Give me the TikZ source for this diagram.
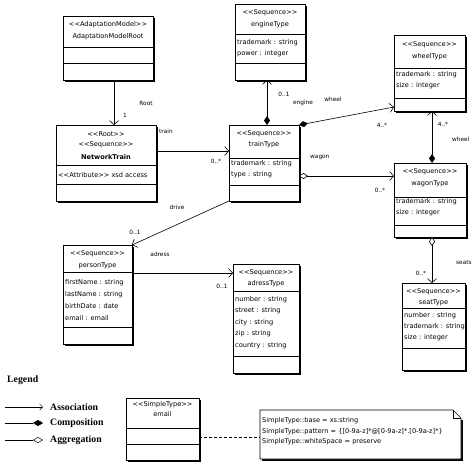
\documentclass[tikz,border=0pt]{standalone}
\usepackage{fontspec}
\setmainfont{DejaVu Sans}
\newfontfamily\legfont{Liberation Serif}
\usetikzlibrary{arrows.meta,calc}
\tikzset{
 box/.style={draw, line width=0.6pt, inner sep=0, outer sep=0, fill=white},
 shad/.style={line width=1.8pt},
 txt/.style={font=\fontsize{6.6}{7.5}\selectfont, inner sep=0},
 atr/.style={txt, anchor=west},
 lbl/.style={font=\fontsize{5.8}{6.5}\selectfont, inner sep=0},
 leg/.style={font=\legfont\bfseries\fontsize{9.8}{10}\selectfont, inner sep=0, anchor=west},
 assoc/.style={line width=0.6pt, -{Straight Barb[length=4pt,width=9pt]}},
 comp/.style={line width=0.6pt, {Diamond[length=9pt,width=6pt]}-{Straight Barb[length=4pt,width=9pt]}},
 aggr/.style={line width=0.6pt, {Diamond[open,length=9pt,width=6pt,fill=white]}-{Straight Barb[length=4pt,width=9pt]}},
}
% name, x1, y1, x2, y2, header divider y, attribute divider y
\newcommand\umlbox[7]{%
 \node[box, minimum width={#4pt-#2pt}, minimum height={#5pt-#3pt}, anchor=north west] (#1) at (#2,#3) {};
 \draw[line width=0.6pt] (#2,#6) -- (#4,#6);
 \draw[line width=0.6pt] (#2,#7) -- (#4,#7);
 \draw[shad] ([xshift=2pt,yshift=-0.9pt]#1.south west) -- ([xshift=0.9pt,yshift=-0.9pt]#1.south east) -- ([xshift=0.9pt,yshift=-2pt]#1.north east);
}
\begin{document}
\begin{tikzpicture}[x=1pt,y=-1pt]
\useasboundingbox[fill=white] (0,0) rectangle (474,463);

% AdaptationModelRoot
\umlbox{amr}{63}{16}{153}{80}{47}{63}
\node[txt] (amr1) at (108,25) {<{}<AdaptationModel>{}>};
\node[txt] (amr2) at (108,37) {AdaptationModelRoot};

% NetworkTrain
\umlbox{nt}{56}{125}{156}{201}{165}{184}
\node[txt] (nt1) at (106,134) {<{}<Root>{}>};
\node[txt] (nt2) at (106,145) {<{}<Sequence>{}>};
\node[txt,font=\bfseries\fontsize{6.6}{7.5}\selectfont] (nt3) at (106,157) {NetworkTrain};
\node[atr] (nt4) at (58,175) {<{}<Attribute>{}> xsd access};

% engineType
\umlbox{et}{235}{4}{305}{80}{34}{63}
\node[txt] (et1) at (270,13) {<{}<Sequence>{}>};
\node[txt] (et2) at (270,25) {engineType};
\node[atr] (et3) at (237,43) {trademark : string};
\node[atr] (et4) at (237,54) {power : integer};

% trainType
\umlbox{tt}{229}{125}{299}{201}{158}{185}
\node[txt] (tt1) at (264,134) {<{}<Sequence>{}>};
\node[txt] (tt2) at (264,145) {trainType};
\node[atr] (tt3) at (231,164) {trademark : string};
\node[atr] (tt4) at (231,175) {type : string};

% wheelType
\umlbox{wt}{394}{35}{465}{111}{68}{98}
\node[txt] (wt1) at (429.5,45) {<{}<Sequence>{}>};
\node[txt] (wt2) at (429.5,57) {wheelType};
\node[atr] (wt3) at (396,75) {trademark : string};
\node[atr] (wt4) at (396,86) {size : integer};

% wagonType
\umlbox{wg}{394}{163}{466}{237}{197}{225}
\node[txt] (wg1) at (430,172) {<{}<Sequence>{}>};
\node[txt] (wg2) at (430,184) {wagonType};
\node[atr] (wg3) at (396,202) {trademark : string};
\node[atr] (wg4) at (396,213) {size : integer};

% personType
\umlbox{pt}{63}{245}{132}{344}{272}{327}
\node[txt] (pt1) at (97.5,254) {<{}<Sequence>{}>};
\node[txt] (pt2) at (97.5,266) {personType};
\node[atr] (pt3) at (65,283) {firstName : string};
\node[atr] (pt4) at (65,295) {lastName : string};
\node[atr] (pt5) at (65,306) {birthDate : date};
\node[atr] (pt6) at (65,318) {email : email};

% addressType
\umlbox{at}{233}{264}{299}{373}{291}{356}
\node[txt] (at1) at (266,273) {<{}<Sequence>{}>};
\node[txt] (at2) at (266,284) {adressType};
\node[atr] (at3) at (235,300) {number : string};
\node[atr] (at4) at (235,311) {street : string};
\node[atr] (at5) at (235,323) {city : string};
\node[atr] (at6) at (235,334) {zip : string};
\node[atr] (at7) at (235,346) {country : string};

% seatType
\umlbox{st}{402}{283}{465}{370}{308}{348}
\node[txt] (st1) at (433.5,292) {<{}<Sequence>{}>};
\node[txt] (st2) at (433.5,303) {seatType};
\begin{scope}
\clip (402,300) rectangle (464.5,347);
\node[atr] (st3) at (404,316) {number : string};
\node[atr] (st4) at (404,327) {trademark : string};
\node[atr] (st5) at (404,338) {size : integer};
\end{scope}

% email simple type
\umlbox{em}{126}{398}{199}{460}{428}{444}
\node[txt] (em1) at (162.5,405) {<{}<SimpleType>{}>};
\node[txt] (em2) at (162.5,414) {email};

% note
\node[inner sep=0, outer sep=0, minimum width=201pt, minimum height=49pt, anchor=north west] (note) at (260,410) {};
\draw[shad] (262,459.9) -- (461.9,459.9) -- (461.9,420);
\draw[line width=0.6pt, fill=white] (260,410) -- (453,410) -- (461,418) -- (461,459) -- (260,459) -- cycle;
\draw[line width=0.6pt] (453,410) -- (453,418) -- (461,418);
\node[atr] (n1) at (262,421) {SimpleType::base = xs:string};
\node[atr] (n2) at (262,431.5) {SimpleType::pattern = \{[0-9a-z]*@[0-9a-z]*.[0-9a-z]*\}};
\node[atr] (n3) at (262,442) {SimpleType::whiteSpace = preserve};

% connectors
\draw[assoc] ([xshift=6pt]amr.south) -- ([xshift=8pt]nt.north);
\draw[assoc] ([yshift=12pt]nt.east) -- ([yshift=12pt]tt.west);
\draw[comp] ([xshift=3pt]tt.north) -- ([xshift=-3pt]et.south);
\draw[comp] (tt.north east) -- ([yshift=-34pt]wt.west);
\draw[comp] ([xshift=2pt]wg.north) -- ([xshift=2.5pt]wt.south);
\draw[aggr] ([yshift=-13pt]tt.east) -- ([yshift=24pt]wg.west);
\draw[assoc] (tt.south west) -- (pt.north east);
\draw[assoc] ([yshift=21.5pt]pt.east) -- ([yshift=45.5pt]at.west);
\draw[aggr] ([xshift=2pt]wg.south) -- ([xshift=-1.5pt]st.north);
\draw[line width=0.6pt, dash pattern=on 3pt off 2pt] ([yshift=-8pt]em.east) -- ([yshift=-2.5pt]note.west);

% connector labels
\node[lbl] (l1) at (146,103) {Root};
\node[lbl] (l2) at (125,115) {1};
\node[lbl, anchor=west] (l3) at (159,131) {train};
\node[lbl] (l4) at (216,161) {0..*};
\node[lbl] (l5) at (284,94) {0..1};
\node[lbl] (l6) at (303,103) {engine};
\node[lbl] (l7) at (333,99) {wheel};
\node[lbl] (l8) at (382,125) {4..*};
\node[lbl] (l9) at (443,124) {4..*};
\node[lbl, anchor=west] (l10) at (452,139) {wheel};
\node[lbl, anchor=west] (l11) at (310,157) {wagon};
\node[lbl] (l12) at (380,190) {0..*};
\node[lbl] (l13) at (177,207) {drive};
\node[lbl] (l14) at (135,232) {0..1};
\node[lbl] (l15) at (160,254) {adress};
\node[lbl] (l16) at (222,286) {0..1};
\node[lbl] (l17) at (421,273) {0..*};
\node[lbl, anchor=west] (l18) at (456,263) {seats};

% legend
\node[leg] (lg) at (7,380) {Legend};
\coordinate (a1) at (5,407); \coordinate (a2) at (43,407);
\coordinate (c1) at (5,423); \coordinate (c2) at (43,423);
\coordinate (g1) at (5,440); \coordinate (g2) at (43,440);
\draw[line width=0.5pt, -{Straight Barb[length=3pt,width=6pt]}] (a1) -- (a2);
\draw[line width=0.5pt, -{Diamond[length=10pt,width=6pt]}] (c1) -- (c2);
\draw[line width=0.5pt, -{Diamond[open,length=10pt,width=6pt]}] (g1) -- (g2);
\node[leg] (la) at (50,407) {Association};
\node[leg] (lc) at (50,423) {Composition};
\node[leg] (lgg) at (50,440) {Aggregation};
\end{tikzpicture}
\end{document}
